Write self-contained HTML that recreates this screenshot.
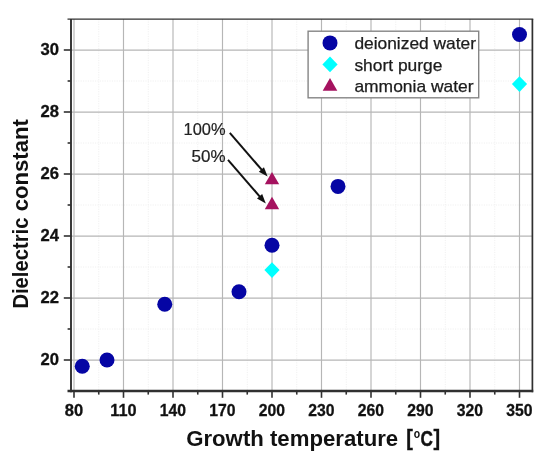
<!DOCTYPE html>
<html lang="en"><head><meta charset="utf-8"><title>Dielectric constant vs growth temperature</title>
<style>html,body{margin:0;padding:0;background:#fff}svg{display:block}text{font-family:"Liberation Sans",Arial,sans-serif}.b{font-weight:bold;fill:#111}.tk{stroke:#111;stroke-width:.3px}.tk{font-size:16.4px}.tt{font-size:22.6px}.lg{font-size:16.2px;fill:#1c1c1c;stroke:#1c1c1c;stroke-width:.25px}.an{font-size:15.6px;fill:#222;stroke:#222;stroke-width:.2px}</style></head><body>
<svg width="550" height="460" viewBox="0 0 550 460">
<rect width="550" height="460" fill="#fff"/>
<g stroke="#f0f0f0" stroke-width="1" stroke-dasharray="1.2,1.2" fill="none">
<line x1="98.75" y1="19.1" x2="98.75" y2="391.0"/>
<line x1="148.25" y1="19.1" x2="148.25" y2="391.0"/>
<line x1="197.75" y1="19.1" x2="197.75" y2="391.0"/>
<line x1="247.25" y1="19.1" x2="247.25" y2="391.0"/>
<line x1="296.75" y1="19.1" x2="296.75" y2="391.0"/>
<line x1="346.25" y1="19.1" x2="346.25" y2="391.0"/>
<line x1="395.75" y1="19.1" x2="395.75" y2="391.0"/>
<line x1="445.25" y1="19.1" x2="445.25" y2="391.0"/>
<line x1="494.75" y1="19.1" x2="494.75" y2="391.0"/>
<line x1="71.0" y1="329.00" x2="532.4" y2="329.00"/>
<line x1="71.0" y1="267.00" x2="532.4" y2="267.00"/>
<line x1="71.0" y1="205.00" x2="532.4" y2="205.00"/>
<line x1="71.0" y1="143.00" x2="532.4" y2="143.00"/>
<line x1="71.0" y1="81.00" x2="532.4" y2="81.00"/>
</g>
<g stroke="#b6b6b6" stroke-width="1.15" fill="none">
<line x1="74.00" y1="19.1" x2="74.00" y2="391.0"/>
<line x1="123.50" y1="19.1" x2="123.50" y2="391.0"/>
<line x1="173.00" y1="19.1" x2="173.00" y2="391.0"/>
<line x1="222.50" y1="19.1" x2="222.50" y2="391.0"/>
<line x1="272.00" y1="19.1" x2="272.00" y2="391.0"/>
<line x1="321.50" y1="19.1" x2="321.50" y2="391.0"/>
<line x1="371.00" y1="19.1" x2="371.00" y2="391.0"/>
<line x1="420.50" y1="19.1" x2="420.50" y2="391.0"/>
<line x1="470.00" y1="19.1" x2="470.00" y2="391.0"/>
<line x1="519.50" y1="19.1" x2="519.50" y2="391.0"/>
<line x1="71.0" y1="360.15" x2="532.4" y2="360.15"/>
<line x1="71.0" y1="298.15" x2="532.4" y2="298.15"/>
<line x1="71.0" y1="236.15" x2="532.4" y2="236.15"/>
<line x1="71.0" y1="174.15" x2="532.4" y2="174.15"/>
<line x1="71.0" y1="112.15" x2="532.4" y2="112.15"/>
<line x1="71.0" y1="50.15" x2="532.4" y2="50.15"/>
</g>
<g stroke="#303030" fill="none" stroke-linecap="butt">
<line x1="67.5" y1="19.1" x2="533.25" y2="19.1" stroke-width="1.4"/>
<line x1="532.4" y1="19.1" x2="532.4" y2="392.2" stroke-width="1.7"/>
<line x1="71.0" y1="19.1" x2="71.0" y2="392.2" stroke-width="1.9"/>
<line x1="67.5" y1="391.0" x2="533.25" y2="391.0" stroke-width="2.4"/>
<g stroke-width="1.6">
<line x1="74.00" y1="391.0" x2="74.00" y2="397.8"/>
<line x1="123.50" y1="391.0" x2="123.50" y2="397.8"/>
<line x1="173.00" y1="391.0" x2="173.00" y2="397.8"/>
<line x1="222.50" y1="391.0" x2="222.50" y2="397.8"/>
<line x1="272.00" y1="391.0" x2="272.00" y2="397.8"/>
<line x1="321.50" y1="391.0" x2="321.50" y2="397.8"/>
<line x1="371.00" y1="391.0" x2="371.00" y2="397.8"/>
<line x1="420.50" y1="391.0" x2="420.50" y2="397.8"/>
<line x1="470.00" y1="391.0" x2="470.00" y2="397.8"/>
<line x1="519.50" y1="391.0" x2="519.50" y2="397.8"/>
<line x1="98.75" y1="391.0" x2="98.75" y2="394.6"/>
<line x1="148.25" y1="391.0" x2="148.25" y2="394.6"/>
<line x1="197.75" y1="391.0" x2="197.75" y2="394.6"/>
<line x1="247.25" y1="391.0" x2="247.25" y2="394.6"/>
<line x1="296.75" y1="391.0" x2="296.75" y2="394.6"/>
<line x1="346.25" y1="391.0" x2="346.25" y2="394.6"/>
<line x1="395.75" y1="391.0" x2="395.75" y2="394.6"/>
<line x1="445.25" y1="391.0" x2="445.25" y2="394.6"/>
<line x1="494.75" y1="391.0" x2="494.75" y2="394.6"/>
<line x1="63.8" y1="360.00" x2="71.0" y2="360.00"/>
<line x1="63.8" y1="298.00" x2="71.0" y2="298.00"/>
<line x1="63.8" y1="236.00" x2="71.0" y2="236.00"/>
<line x1="63.8" y1="174.00" x2="71.0" y2="174.00"/>
<line x1="63.8" y1="112.00" x2="71.0" y2="112.00"/>
<line x1="63.8" y1="50.00" x2="71.0" y2="50.00"/>
<line x1="67.6" y1="329.00" x2="71.0" y2="329.00"/>
<line x1="67.6" y1="267.00" x2="71.0" y2="267.00"/>
<line x1="67.6" y1="205.00" x2="71.0" y2="205.00"/>
<line x1="67.6" y1="143.00" x2="71.0" y2="143.00"/>
<line x1="67.6" y1="81.00" x2="71.0" y2="81.00"/>
</g></g>
<g class="b tk">
<text x="59.1" y="364.90" text-anchor="end" textLength="18.5" lengthAdjust="spacingAndGlyphs">20</text>
<text x="59.1" y="302.90" text-anchor="end" textLength="18.5" lengthAdjust="spacingAndGlyphs">22</text>
<text x="59.1" y="240.90" text-anchor="end" textLength="18.5" lengthAdjust="spacingAndGlyphs">24</text>
<text x="59.1" y="178.90" text-anchor="end" textLength="18.5" lengthAdjust="spacingAndGlyphs">26</text>
<text x="59.1" y="116.90" text-anchor="end" textLength="18.5" lengthAdjust="spacingAndGlyphs">28</text>
<text x="59.1" y="54.90" text-anchor="end" textLength="18.5" lengthAdjust="spacingAndGlyphs">30</text>
<text x="74.00" y="416.1" text-anchor="middle" textLength="18.4" lengthAdjust="spacingAndGlyphs">80</text>
<text x="123.50" y="416.1" text-anchor="middle" textLength="26.3" lengthAdjust="spacingAndGlyphs">110</text>
<text x="173.00" y="416.1" text-anchor="middle" textLength="26.3" lengthAdjust="spacingAndGlyphs">140</text>
<text x="222.50" y="416.1" text-anchor="middle" textLength="26.3" lengthAdjust="spacingAndGlyphs">170</text>
<text x="272.00" y="416.1" text-anchor="middle" textLength="26.3" lengthAdjust="spacingAndGlyphs">200</text>
<text x="321.50" y="416.1" text-anchor="middle" textLength="26.3" lengthAdjust="spacingAndGlyphs">230</text>
<text x="371.00" y="416.1" text-anchor="middle" textLength="26.3" lengthAdjust="spacingAndGlyphs">260</text>
<text x="420.50" y="416.1" text-anchor="middle" textLength="26.3" lengthAdjust="spacingAndGlyphs">290</text>
<text x="470.00" y="416.1" text-anchor="middle" textLength="26.3" lengthAdjust="spacingAndGlyphs">320</text>
<text x="519.50" y="416.1" text-anchor="middle" textLength="26.3" lengthAdjust="spacingAndGlyphs">350</text>
</g>
<text class="b tt" x="186.2" y="445.8" textLength="212" lengthAdjust="spacingAndGlyphs">Growth temperature</text>
<text class="b tt" stroke="#111" stroke-width=".4" x="406.3" y="444.6" textLength="6.6" lengthAdjust="spacingAndGlyphs">[</text>
<text class="b" font-size="12.4px" x="413.7" y="438.2" textLength="6.4" lengthAdjust="spacingAndGlyphs">o</text>
<text class="b tt" stroke="#111" stroke-width=".5" x="420.4" y="445.8" textLength="12.4" lengthAdjust="spacingAndGlyphs">C</text>
<text class="b tt" stroke="#111" stroke-width=".4" x="433.6" y="444.6" textLength="6.6" lengthAdjust="spacingAndGlyphs">]</text>
<text class="b tt" transform="translate(27.7 308.6) rotate(-90)" textLength="91" lengthAdjust="spacingAndGlyphs">Dielectric</text>
<text class="b tt" transform="translate(27.7 211.2) rotate(-90)" textLength="92" lengthAdjust="spacingAndGlyphs">constant</text>
<g fill="#0505a4">
<circle cx="82.25" cy="366.20" r="7.5"/>
<circle cx="107.00" cy="360.00" r="7.5"/>
<circle cx="164.75" cy="304.20" r="7.5"/>
<circle cx="239.00" cy="291.80" r="7.5"/>
<circle cx="272.00" cy="245.30" r="7.5"/>
<circle cx="338.00" cy="186.40" r="7.5"/>
<circle cx="519.50" cy="34.50" r="7.5"/>
</g>
<g fill="#0ff">
<path d="M272.00 262.20L279.60 270.10L272.00 278.00L264.40 270.10Z"/>
<path d="M519.50 76.20L527.10 84.10L519.50 92.00L511.90 84.10Z"/>
</g>
<g fill="#a5125f">
<path d="M272.00 171.93L279.20 184.33L264.80 184.33Z"/>
<path d="M272.00 196.73L279.20 209.13L264.80 209.13Z"/>
</g>
<g class="an">
<text x="183.6" y="135.2" textLength="42" lengthAdjust="spacingAndGlyphs">100%</text>
<text x="191.6" y="162.0" textLength="34" lengthAdjust="spacingAndGlyphs">50%</text>
</g>
<line x1="229.80" y1="132.90" x2="262.04" y2="170.17" stroke="#111" stroke-width="2.0"/><path fill="#111" d="M267.60 176.60L258.81 171.64L263.96 167.19Z"/>
<line x1="228.00" y1="159.80" x2="260.24" y2="197.07" stroke="#111" stroke-width="2.0"/><path fill="#111" d="M265.80 203.50L257.01 198.54L262.16 194.09Z"/>
<rect x="308.1" y="31.2" width="170.6" height="66.6" fill="#fff" stroke="#858585" stroke-width="1.4"/>
<circle cx="330" cy="42.9" r="7.5" fill="#0505a4"/>
<g fill="#0ff"><path d="M330.00 56.50L337.60 64.40L330.00 72.30L322.40 64.40Z"/></g>
<g fill="#a5125f"><path d="M330.00 78.03L337.30 90.73L322.70 90.73Z"/></g>
<g class="lg">
<text x="354.4" y="48.6" textLength="121.6" lengthAdjust="spacingAndGlyphs">deionized water</text>
<text x="354.4" y="70.6" textLength="88" lengthAdjust="spacingAndGlyphs">short purge</text>
<text x="354.4" y="92.0" textLength="119.2" lengthAdjust="spacingAndGlyphs">ammonia water</text>
</g>
</svg></body></html>
